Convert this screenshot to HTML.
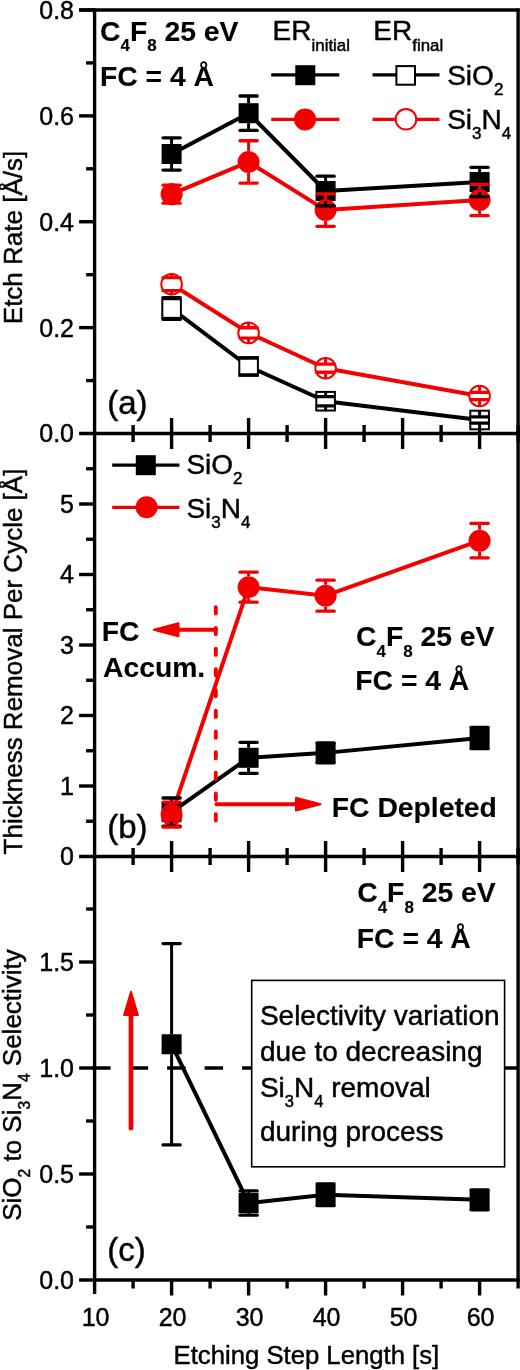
<!DOCTYPE html>
<html><head><meta charset="utf-8"><style>html,body{margin:0;padding:0;background:#fff;}svg{display:block;}text{stroke:#000;stroke-width:0.45px;}text[font-weight="bold"]{stroke-width:0.1px;}</style></head><body>
<svg width="520" height="1370" viewBox="0 0 520 1370">
<rect width="520" height="1370" fill="#fff"/>
<g font-family="'Liberation Sans', Arial, sans-serif" fill="#000">
<line x1="79.10" y1="10.00" x2="519.60" y2="10.00" stroke="#000" stroke-width="3.4" stroke-linecap="butt" />
<line x1="94.60" y1="8.50" x2="94.60" y2="1294.00" stroke="#000" stroke-width="3.4" stroke-linecap="butt" />
<line x1="518.10" y1="8.50" x2="518.10" y2="1281.50" stroke="#000" stroke-width="3.4" stroke-linecap="butt" />
<line x1="79.10" y1="433.50" x2="519.60" y2="433.50" stroke="#000" stroke-width="3.4" stroke-linecap="butt" />
<line x1="79.10" y1="856.50" x2="519.60" y2="856.50" stroke="#000" stroke-width="3.4" stroke-linecap="butt" />
<line x1="79.10" y1="1280.00" x2="519.60" y2="1280.00" stroke="#000" stroke-width="3.4" stroke-linecap="butt" />
<line x1="79.10" y1="9.98" x2="94.60" y2="9.98" stroke="#000" stroke-width="3.4" stroke-linecap="butt" />
<line x1="79.10" y1="115.86" x2="94.60" y2="115.86" stroke="#000" stroke-width="3.4" stroke-linecap="butt" />
<line x1="79.10" y1="221.74" x2="94.60" y2="221.74" stroke="#000" stroke-width="3.4" stroke-linecap="butt" />
<line x1="79.10" y1="327.62" x2="94.60" y2="327.62" stroke="#000" stroke-width="3.4" stroke-linecap="butt" />
<line x1="86.10" y1="62.92" x2="94.60" y2="62.92" stroke="#000" stroke-width="3.4" stroke-linecap="butt" />
<line x1="86.10" y1="168.80" x2="94.60" y2="168.80" stroke="#000" stroke-width="3.4" stroke-linecap="butt" />
<line x1="86.10" y1="274.68" x2="94.60" y2="274.68" stroke="#000" stroke-width="3.4" stroke-linecap="butt" />
<line x1="86.10" y1="380.56" x2="94.60" y2="380.56" stroke="#000" stroke-width="3.4" stroke-linecap="butt" />
<line x1="79.10" y1="504.00" x2="94.60" y2="504.00" stroke="#000" stroke-width="3.4" stroke-linecap="butt" />
<line x1="79.10" y1="574.50" x2="94.60" y2="574.50" stroke="#000" stroke-width="3.4" stroke-linecap="butt" />
<line x1="79.10" y1="645.00" x2="94.60" y2="645.00" stroke="#000" stroke-width="3.4" stroke-linecap="butt" />
<line x1="79.10" y1="715.50" x2="94.60" y2="715.50" stroke="#000" stroke-width="3.4" stroke-linecap="butt" />
<line x1="79.10" y1="786.00" x2="94.60" y2="786.00" stroke="#000" stroke-width="3.4" stroke-linecap="butt" />
<line x1="86.10" y1="468.75" x2="94.60" y2="468.75" stroke="#000" stroke-width="3.4" stroke-linecap="butt" />
<line x1="86.10" y1="539.25" x2="94.60" y2="539.25" stroke="#000" stroke-width="3.4" stroke-linecap="butt" />
<line x1="86.10" y1="609.75" x2="94.60" y2="609.75" stroke="#000" stroke-width="3.4" stroke-linecap="butt" />
<line x1="86.10" y1="680.25" x2="94.60" y2="680.25" stroke="#000" stroke-width="3.4" stroke-linecap="butt" />
<line x1="86.10" y1="750.75" x2="94.60" y2="750.75" stroke="#000" stroke-width="3.4" stroke-linecap="butt" />
<line x1="86.10" y1="821.25" x2="94.60" y2="821.25" stroke="#000" stroke-width="3.4" stroke-linecap="butt" />
<line x1="79.10" y1="962.00" x2="94.60" y2="962.00" stroke="#000" stroke-width="3.4" stroke-linecap="butt" />
<line x1="79.10" y1="1068.00" x2="94.60" y2="1068.00" stroke="#000" stroke-width="3.4" stroke-linecap="butt" />
<line x1="79.10" y1="1174.00" x2="94.60" y2="1174.00" stroke="#000" stroke-width="3.4" stroke-linecap="butt" />
<line x1="86.10" y1="909.00" x2="94.60" y2="909.00" stroke="#000" stroke-width="3.4" stroke-linecap="butt" />
<line x1="86.10" y1="1015.00" x2="94.60" y2="1015.00" stroke="#000" stroke-width="3.4" stroke-linecap="butt" />
<line x1="86.10" y1="1121.00" x2="94.60" y2="1121.00" stroke="#000" stroke-width="3.4" stroke-linecap="butt" />
<line x1="86.10" y1="1227.00" x2="94.60" y2="1227.00" stroke="#000" stroke-width="3.4" stroke-linecap="butt" />
<line x1="133.10" y1="425.00" x2="133.10" y2="442.00" stroke="#000" stroke-width="3.4" stroke-linecap="butt" />
<line x1="133.10" y1="848.00" x2="133.10" y2="865.00" stroke="#000" stroke-width="3.4" stroke-linecap="butt" />
<line x1="133.10" y1="1280.00" x2="133.10" y2="1288.50" stroke="#000" stroke-width="3.4" stroke-linecap="butt" />
<line x1="171.60" y1="418.00" x2="171.60" y2="449.00" stroke="#000" stroke-width="3.4" stroke-linecap="butt" />
<line x1="171.60" y1="841.00" x2="171.60" y2="872.00" stroke="#000" stroke-width="3.4" stroke-linecap="butt" />
<line x1="171.60" y1="1280.00" x2="171.60" y2="1295.50" stroke="#000" stroke-width="3.4" stroke-linecap="butt" />
<line x1="210.10" y1="425.00" x2="210.10" y2="442.00" stroke="#000" stroke-width="3.4" stroke-linecap="butt" />
<line x1="210.10" y1="848.00" x2="210.10" y2="865.00" stroke="#000" stroke-width="3.4" stroke-linecap="butt" />
<line x1="210.10" y1="1280.00" x2="210.10" y2="1288.50" stroke="#000" stroke-width="3.4" stroke-linecap="butt" />
<line x1="248.60" y1="418.00" x2="248.60" y2="449.00" stroke="#000" stroke-width="3.4" stroke-linecap="butt" />
<line x1="248.60" y1="841.00" x2="248.60" y2="872.00" stroke="#000" stroke-width="3.4" stroke-linecap="butt" />
<line x1="248.60" y1="1280.00" x2="248.60" y2="1295.50" stroke="#000" stroke-width="3.4" stroke-linecap="butt" />
<line x1="287.10" y1="425.00" x2="287.10" y2="442.00" stroke="#000" stroke-width="3.4" stroke-linecap="butt" />
<line x1="287.10" y1="848.00" x2="287.10" y2="865.00" stroke="#000" stroke-width="3.4" stroke-linecap="butt" />
<line x1="287.10" y1="1280.00" x2="287.10" y2="1288.50" stroke="#000" stroke-width="3.4" stroke-linecap="butt" />
<line x1="325.60" y1="418.00" x2="325.60" y2="449.00" stroke="#000" stroke-width="3.4" stroke-linecap="butt" />
<line x1="325.60" y1="841.00" x2="325.60" y2="872.00" stroke="#000" stroke-width="3.4" stroke-linecap="butt" />
<line x1="325.60" y1="1280.00" x2="325.60" y2="1295.50" stroke="#000" stroke-width="3.4" stroke-linecap="butt" />
<line x1="364.10" y1="425.00" x2="364.10" y2="442.00" stroke="#000" stroke-width="3.4" stroke-linecap="butt" />
<line x1="364.10" y1="848.00" x2="364.10" y2="865.00" stroke="#000" stroke-width="3.4" stroke-linecap="butt" />
<line x1="364.10" y1="1280.00" x2="364.10" y2="1288.50" stroke="#000" stroke-width="3.4" stroke-linecap="butt" />
<line x1="402.60" y1="418.00" x2="402.60" y2="449.00" stroke="#000" stroke-width="3.4" stroke-linecap="butt" />
<line x1="402.60" y1="841.00" x2="402.60" y2="872.00" stroke="#000" stroke-width="3.4" stroke-linecap="butt" />
<line x1="402.60" y1="1280.00" x2="402.60" y2="1295.50" stroke="#000" stroke-width="3.4" stroke-linecap="butt" />
<line x1="441.10" y1="425.00" x2="441.10" y2="442.00" stroke="#000" stroke-width="3.4" stroke-linecap="butt" />
<line x1="441.10" y1="848.00" x2="441.10" y2="865.00" stroke="#000" stroke-width="3.4" stroke-linecap="butt" />
<line x1="441.10" y1="1280.00" x2="441.10" y2="1288.50" stroke="#000" stroke-width="3.4" stroke-linecap="butt" />
<line x1="479.60" y1="418.00" x2="479.60" y2="449.00" stroke="#000" stroke-width="3.4" stroke-linecap="butt" />
<line x1="479.60" y1="841.00" x2="479.60" y2="872.00" stroke="#000" stroke-width="3.4" stroke-linecap="butt" />
<line x1="479.60" y1="1280.00" x2="479.60" y2="1295.50" stroke="#000" stroke-width="3.4" stroke-linecap="butt" />
<line x1="518.10" y1="425.00" x2="518.10" y2="442.00" stroke="#000" stroke-width="3.4" stroke-linecap="butt" />
<line x1="518.10" y1="848.00" x2="518.10" y2="865.00" stroke="#000" stroke-width="3.4" stroke-linecap="butt" />
<line x1="518.10" y1="1280.00" x2="518.10" y2="1288.50" stroke="#000" stroke-width="3.4" stroke-linecap="butt" />
<polyline points="171.60,153.98 248.60,113.21 325.60,191.03 479.60,182.04" fill="none" stroke="#000" stroke-width="4.0" stroke-linejoin="round"/>
<polyline points="171.60,194.21 248.60,161.92 325.60,210.09 479.60,200.03" fill="none" stroke="#f50000" stroke-width="4.0" stroke-linejoin="round"/>
<polyline points="171.60,308.56 248.60,366.48 325.60,401.21 479.60,420.00" fill="none" stroke="#000" stroke-width="4.0" stroke-linejoin="round"/>
<polyline points="171.60,284.21 248.60,332.91 325.60,368.22 479.60,396.02" fill="none" stroke="#f50000" stroke-width="4.0" stroke-linejoin="round"/>
<rect x="161.60" y="143.98" width="20.0" height="20.0" fill="#000"/>
<rect x="238.60" y="103.21" width="20.0" height="20.0" fill="#000"/>
<rect x="315.60" y="181.03" width="20.0" height="20.0" fill="#000"/>
<rect x="469.60" y="172.04" width="20.0" height="20.0" fill="#000"/>
<circle cx="171.60" cy="194.21" r="11.0" fill="#f50000"/>
<circle cx="248.60" cy="161.92" r="11.0" fill="#f50000"/>
<circle cx="325.60" cy="210.09" r="11.0" fill="#f50000"/>
<circle cx="479.60" cy="200.03" r="11.0" fill="#f50000"/>
<rect x="162.30" y="299.26" width="18.6" height="18.6" fill="#fff" stroke="#000" stroke-width="2.0"/>
<rect x="239.30" y="357.18" width="18.6" height="18.6" fill="#fff" stroke="#000" stroke-width="2.0"/>
<rect x="316.30" y="391.91" width="18.6" height="18.6" fill="#fff" stroke="#000" stroke-width="2.0"/>
<rect x="470.30" y="410.70" width="18.6" height="18.6" fill="#fff" stroke="#000" stroke-width="2.0"/>
<circle cx="171.60" cy="284.21" r="10.3" fill="#fff" stroke="#f50000" stroke-width="2.0"/>
<circle cx="248.60" cy="332.91" r="10.3" fill="#fff" stroke="#f50000" stroke-width="2.0"/>
<circle cx="325.60" cy="368.22" r="10.3" fill="#fff" stroke="#f50000" stroke-width="2.0"/>
<circle cx="479.60" cy="396.02" r="10.3" fill="#fff" stroke="#f50000" stroke-width="2.0"/>
<line x1="171.60" y1="143.98" x2="171.60" y2="137.83" stroke="#000" stroke-width="3.0" stroke-linecap="butt" />
<line x1="163.00" y1="137.83" x2="180.20" y2="137.83" stroke="#000" stroke-width="3.3" stroke-linecap="round" />
<line x1="171.60" y1="163.98" x2="171.60" y2="170.12" stroke="#000" stroke-width="3.0" stroke-linecap="butt" />
<line x1="163.00" y1="170.12" x2="180.20" y2="170.12" stroke="#000" stroke-width="3.3" stroke-linecap="round" />
<line x1="248.60" y1="103.21" x2="248.60" y2="96.01" stroke="#000" stroke-width="3.0" stroke-linecap="butt" />
<line x1="240.00" y1="96.01" x2="257.20" y2="96.01" stroke="#000" stroke-width="3.3" stroke-linecap="round" />
<line x1="248.60" y1="123.21" x2="248.60" y2="130.42" stroke="#000" stroke-width="3.0" stroke-linecap="butt" />
<line x1="240.00" y1="130.42" x2="257.20" y2="130.42" stroke="#000" stroke-width="3.3" stroke-linecap="round" />
<line x1="325.60" y1="181.03" x2="325.60" y2="176.21" stroke="#000" stroke-width="3.0" stroke-linecap="butt" />
<line x1="317.00" y1="176.21" x2="334.20" y2="176.21" stroke="#000" stroke-width="3.3" stroke-linecap="round" />
<line x1="325.60" y1="201.03" x2="325.60" y2="205.86" stroke="#000" stroke-width="3.0" stroke-linecap="butt" />
<line x1="317.00" y1="205.86" x2="334.20" y2="205.86" stroke="#000" stroke-width="3.3" stroke-linecap="round" />
<line x1="479.60" y1="172.04" x2="479.60" y2="167.37" stroke="#000" stroke-width="3.0" stroke-linecap="butt" />
<line x1="471.00" y1="167.37" x2="488.20" y2="167.37" stroke="#000" stroke-width="3.3" stroke-linecap="round" />
<line x1="479.60" y1="192.04" x2="479.60" y2="196.70" stroke="#000" stroke-width="3.0" stroke-linecap="butt" />
<line x1="471.00" y1="196.70" x2="488.20" y2="196.70" stroke="#000" stroke-width="3.3" stroke-linecap="round" />
<line x1="171.60" y1="183.21" x2="171.60" y2="185.21" stroke="#f50000" stroke-width="3.0" stroke-linecap="butt" />
<line x1="163.00" y1="185.21" x2="180.20" y2="185.21" stroke="#f50000" stroke-width="3.3" stroke-linecap="round" />
<line x1="171.60" y1="205.21" x2="171.60" y2="203.21" stroke="#f50000" stroke-width="3.0" stroke-linecap="butt" />
<line x1="163.00" y1="203.21" x2="180.20" y2="203.21" stroke="#f50000" stroke-width="3.3" stroke-linecap="round" />
<line x1="248.60" y1="150.92" x2="248.60" y2="140.74" stroke="#f50000" stroke-width="3.0" stroke-linecap="butt" />
<line x1="240.00" y1="140.74" x2="257.20" y2="140.74" stroke="#f50000" stroke-width="3.3" stroke-linecap="round" />
<line x1="248.60" y1="172.92" x2="248.60" y2="183.09" stroke="#f50000" stroke-width="3.0" stroke-linecap="butt" />
<line x1="240.00" y1="183.09" x2="257.20" y2="183.09" stroke="#f50000" stroke-width="3.3" stroke-linecap="round" />
<line x1="325.60" y1="199.09" x2="325.60" y2="193.84" stroke="#f50000" stroke-width="3.0" stroke-linecap="butt" />
<line x1="317.00" y1="193.84" x2="334.20" y2="193.84" stroke="#f50000" stroke-width="3.3" stroke-linecap="round" />
<line x1="325.60" y1="221.09" x2="325.60" y2="226.35" stroke="#f50000" stroke-width="3.0" stroke-linecap="butt" />
<line x1="317.00" y1="226.35" x2="334.20" y2="226.35" stroke="#f50000" stroke-width="3.3" stroke-linecap="round" />
<line x1="479.60" y1="189.03" x2="479.60" y2="184.42" stroke="#f50000" stroke-width="3.0" stroke-linecap="butt" />
<line x1="471.00" y1="184.42" x2="488.20" y2="184.42" stroke="#f50000" stroke-width="3.3" stroke-linecap="round" />
<line x1="479.60" y1="211.03" x2="479.60" y2="215.65" stroke="#f50000" stroke-width="3.0" stroke-linecap="butt" />
<line x1="471.00" y1="215.65" x2="488.20" y2="215.65" stroke="#f50000" stroke-width="3.3" stroke-linecap="round" />
<line x1="171.60" y1="298.56" x2="171.60" y2="297.71" stroke="#000" stroke-width="3.0" stroke-linecap="butt" />
<line x1="163.00" y1="297.71" x2="180.20" y2="297.71" stroke="#000" stroke-width="3.3" stroke-linecap="round" />
<line x1="171.60" y1="318.56" x2="171.60" y2="319.41" stroke="#000" stroke-width="3.0" stroke-linecap="butt" />
<line x1="163.00" y1="319.41" x2="180.20" y2="319.41" stroke="#000" stroke-width="3.3" stroke-linecap="round" />
<line x1="248.60" y1="356.48" x2="248.60" y2="358.01" stroke="#000" stroke-width="3.0" stroke-linecap="butt" />
<line x1="240.00" y1="358.01" x2="257.20" y2="358.01" stroke="#000" stroke-width="3.3" stroke-linecap="round" />
<line x1="248.60" y1="376.48" x2="248.60" y2="374.95" stroke="#000" stroke-width="3.0" stroke-linecap="butt" />
<line x1="240.00" y1="374.95" x2="257.20" y2="374.95" stroke="#000" stroke-width="3.3" stroke-linecap="round" />
<line x1="325.60" y1="391.21" x2="325.60" y2="396.60" stroke="#000" stroke-width="3.0" stroke-linecap="butt" />
<line x1="317.00" y1="396.60" x2="334.20" y2="396.60" stroke="#000" stroke-width="3.3" stroke-linecap="round" />
<line x1="325.60" y1="411.21" x2="325.60" y2="405.81" stroke="#000" stroke-width="3.0" stroke-linecap="butt" />
<line x1="317.00" y1="405.81" x2="334.20" y2="405.81" stroke="#000" stroke-width="3.3" stroke-linecap="round" />
<line x1="479.60" y1="410.00" x2="479.60" y2="416.82" stroke="#000" stroke-width="3.0" stroke-linecap="butt" />
<line x1="471.00" y1="416.82" x2="488.20" y2="416.82" stroke="#000" stroke-width="3.3" stroke-linecap="round" />
<line x1="479.60" y1="430.00" x2="479.60" y2="423.18" stroke="#000" stroke-width="3.0" stroke-linecap="butt" />
<line x1="471.00" y1="423.18" x2="488.20" y2="423.18" stroke="#000" stroke-width="3.3" stroke-linecap="round" />
<line x1="171.60" y1="273.21" x2="171.60" y2="277.70" stroke="#f50000" stroke-width="3.0" stroke-linecap="butt" />
<line x1="163.00" y1="277.70" x2="180.20" y2="277.70" stroke="#f50000" stroke-width="3.3" stroke-linecap="round" />
<line x1="171.60" y1="295.21" x2="171.60" y2="290.72" stroke="#f50000" stroke-width="3.0" stroke-linecap="butt" />
<line x1="163.00" y1="290.72" x2="180.20" y2="290.72" stroke="#f50000" stroke-width="3.3" stroke-linecap="round" />
<line x1="248.60" y1="321.91" x2="248.60" y2="327.73" stroke="#f50000" stroke-width="3.0" stroke-linecap="butt" />
<line x1="240.00" y1="327.73" x2="257.20" y2="327.73" stroke="#f50000" stroke-width="3.3" stroke-linecap="round" />
<line x1="248.60" y1="343.91" x2="248.60" y2="338.10" stroke="#f50000" stroke-width="3.0" stroke-linecap="butt" />
<line x1="240.00" y1="338.10" x2="257.20" y2="338.10" stroke="#f50000" stroke-width="3.3" stroke-linecap="round" />
<line x1="325.60" y1="357.22" x2="325.60" y2="364.20" stroke="#f50000" stroke-width="3.0" stroke-linecap="butt" />
<line x1="317.00" y1="364.20" x2="334.20" y2="364.20" stroke="#f50000" stroke-width="3.3" stroke-linecap="round" />
<line x1="325.60" y1="379.22" x2="325.60" y2="372.25" stroke="#f50000" stroke-width="3.0" stroke-linecap="butt" />
<line x1="317.00" y1="372.25" x2="334.20" y2="372.25" stroke="#f50000" stroke-width="3.3" stroke-linecap="round" />
<line x1="479.60" y1="385.02" x2="479.60" y2="392.31" stroke="#f50000" stroke-width="3.0" stroke-linecap="butt" />
<line x1="471.00" y1="392.31" x2="488.20" y2="392.31" stroke="#f50000" stroke-width="3.3" stroke-linecap="round" />
<line x1="479.60" y1="407.02" x2="479.60" y2="399.72" stroke="#f50000" stroke-width="3.0" stroke-linecap="butt" />
<line x1="471.00" y1="399.72" x2="488.20" y2="399.72" stroke="#f50000" stroke-width="3.3" stroke-linecap="round" />
<polyline points="171.60,812.09 248.60,757.80 325.60,752.87 479.60,738.06" fill="none" stroke="#000" stroke-width="4.0" stroke-linejoin="round"/>
<polyline points="171.60,814.62 248.60,587.19 325.60,595.65 479.60,540.66" fill="none" stroke="#f50000" stroke-width="4.0" stroke-linejoin="round"/>
<rect x="161.60" y="802.09" width="20.0" height="20.0" fill="#000"/>
<rect x="238.60" y="747.80" width="20.0" height="20.0" fill="#000"/>
<rect x="315.60" y="742.87" width="20.0" height="20.0" fill="#000"/>
<rect x="469.60" y="728.06" width="20.0" height="20.0" fill="#000"/>
<circle cx="171.60" cy="814.62" r="11.0" fill="#f50000"/>
<circle cx="248.60" cy="587.19" r="11.0" fill="#f50000"/>
<circle cx="325.60" cy="595.65" r="11.0" fill="#f50000"/>
<circle cx="479.60" cy="540.66" r="11.0" fill="#f50000"/>
<line x1="171.60" y1="802.09" x2="171.60" y2="797.99" stroke="#000" stroke-width="3.0" stroke-linecap="butt" />
<line x1="163.00" y1="797.99" x2="180.20" y2="797.99" stroke="#000" stroke-width="3.3" stroke-linecap="round" />
<line x1="171.60" y1="822.09" x2="171.60" y2="826.19" stroke="#000" stroke-width="3.0" stroke-linecap="butt" />
<line x1="163.00" y1="826.19" x2="180.20" y2="826.19" stroke="#000" stroke-width="3.3" stroke-linecap="round" />
<line x1="248.60" y1="747.80" x2="248.60" y2="742.29" stroke="#000" stroke-width="3.0" stroke-linecap="butt" />
<line x1="240.00" y1="742.29" x2="257.20" y2="742.29" stroke="#000" stroke-width="3.3" stroke-linecap="round" />
<line x1="248.60" y1="767.80" x2="248.60" y2="773.31" stroke="#000" stroke-width="3.0" stroke-linecap="butt" />
<line x1="240.00" y1="773.31" x2="257.20" y2="773.31" stroke="#000" stroke-width="3.3" stroke-linecap="round" />
<line x1="325.60" y1="742.87" x2="325.60" y2="743.00" stroke="#000" stroke-width="3.0" stroke-linecap="butt" />
<line x1="317.00" y1="743.00" x2="334.20" y2="743.00" stroke="#000" stroke-width="3.3" stroke-linecap="round" />
<line x1="325.60" y1="762.87" x2="325.60" y2="762.74" stroke="#000" stroke-width="3.0" stroke-linecap="butt" />
<line x1="317.00" y1="762.74" x2="334.20" y2="762.74" stroke="#000" stroke-width="3.3" stroke-linecap="round" />
<line x1="479.60" y1="728.06" x2="479.60" y2="727.48" stroke="#000" stroke-width="3.0" stroke-linecap="butt" />
<line x1="471.00" y1="727.48" x2="488.20" y2="727.48" stroke="#000" stroke-width="3.3" stroke-linecap="round" />
<line x1="479.60" y1="748.06" x2="479.60" y2="748.63" stroke="#000" stroke-width="3.0" stroke-linecap="butt" />
<line x1="471.00" y1="748.63" x2="488.20" y2="748.63" stroke="#000" stroke-width="3.3" stroke-linecap="round" />
<line x1="171.60" y1="803.62" x2="171.60" y2="802.14" stroke="#f50000" stroke-width="3.0" stroke-linecap="butt" />
<line x1="163.00" y1="802.14" x2="180.20" y2="802.14" stroke="#f50000" stroke-width="3.3" stroke-linecap="round" />
<line x1="171.60" y1="825.62" x2="171.60" y2="827.10" stroke="#f50000" stroke-width="3.0" stroke-linecap="butt" />
<line x1="163.00" y1="827.10" x2="180.20" y2="827.10" stroke="#f50000" stroke-width="3.3" stroke-linecap="round" />
<line x1="248.60" y1="576.19" x2="248.60" y2="572.17" stroke="#f50000" stroke-width="3.0" stroke-linecap="butt" />
<line x1="240.00" y1="572.17" x2="257.20" y2="572.17" stroke="#f50000" stroke-width="3.3" stroke-linecap="round" />
<line x1="248.60" y1="598.19" x2="248.60" y2="602.21" stroke="#f50000" stroke-width="3.0" stroke-linecap="butt" />
<line x1="240.00" y1="602.21" x2="257.20" y2="602.21" stroke="#f50000" stroke-width="3.3" stroke-linecap="round" />
<line x1="325.60" y1="584.65" x2="325.60" y2="580.14" stroke="#f50000" stroke-width="3.0" stroke-linecap="butt" />
<line x1="317.00" y1="580.14" x2="334.20" y2="580.14" stroke="#f50000" stroke-width="3.3" stroke-linecap="round" />
<line x1="325.60" y1="606.65" x2="325.60" y2="611.16" stroke="#f50000" stroke-width="3.0" stroke-linecap="butt" />
<line x1="317.00" y1="611.16" x2="334.20" y2="611.16" stroke="#f50000" stroke-width="3.3" stroke-linecap="round" />
<line x1="479.60" y1="529.66" x2="479.60" y2="523.39" stroke="#f50000" stroke-width="3.0" stroke-linecap="butt" />
<line x1="471.00" y1="523.39" x2="488.20" y2="523.39" stroke="#f50000" stroke-width="3.3" stroke-linecap="round" />
<line x1="479.60" y1="551.66" x2="479.60" y2="557.93" stroke="#f50000" stroke-width="3.0" stroke-linecap="butt" />
<line x1="471.00" y1="557.93" x2="488.20" y2="557.93" stroke="#f50000" stroke-width="3.3" stroke-linecap="round" />
<line x1="92.1" y1="1068.00" x2="518.10" y2="1068.00" stroke="#000" stroke-width="3.5" stroke-dasharray="18.5 19"/>
<polyline points="171.60,1044.26 248.60,1203.04 325.60,1194.78 479.60,1199.86" fill="none" stroke="#000" stroke-width="4.0" stroke-linejoin="round"/>
<rect x="161.60" y="1034.26" width="20.0" height="20.0" fill="#000"/>
<rect x="238.60" y="1193.04" width="20.0" height="20.0" fill="#000"/>
<rect x="315.60" y="1184.78" width="20.0" height="20.0" fill="#000"/>
<rect x="469.60" y="1189.86" width="20.0" height="20.0" fill="#000"/>
<line x1="171.60" y1="1034.26" x2="171.60" y2="943.56" stroke="#000" stroke-width="3.0" stroke-linecap="butt" />
<line x1="163.00" y1="943.56" x2="180.20" y2="943.56" stroke="#000" stroke-width="3.3" stroke-linecap="round" />
<line x1="171.60" y1="1054.26" x2="171.60" y2="1144.96" stroke="#000" stroke-width="3.0" stroke-linecap="butt" />
<line x1="163.00" y1="1144.96" x2="180.20" y2="1144.96" stroke="#000" stroke-width="3.3" stroke-linecap="round" />
<line x1="248.60" y1="1193.04" x2="248.60" y2="1190.96" stroke="#000" stroke-width="3.0" stroke-linecap="butt" />
<line x1="240.00" y1="1190.96" x2="257.20" y2="1190.96" stroke="#000" stroke-width="3.3" stroke-linecap="round" />
<line x1="248.60" y1="1213.04" x2="248.60" y2="1215.13" stroke="#000" stroke-width="3.0" stroke-linecap="butt" />
<line x1="240.00" y1="1215.13" x2="257.20" y2="1215.13" stroke="#000" stroke-width="3.3" stroke-linecap="round" />
<line x1="325.60" y1="1184.78" x2="325.60" y2="1183.96" stroke="#000" stroke-width="3.0" stroke-linecap="butt" />
<line x1="317.00" y1="1183.96" x2="334.20" y2="1183.96" stroke="#000" stroke-width="3.3" stroke-linecap="round" />
<line x1="325.60" y1="1204.78" x2="325.60" y2="1205.59" stroke="#000" stroke-width="3.0" stroke-linecap="butt" />
<line x1="317.00" y1="1205.59" x2="334.20" y2="1205.59" stroke="#000" stroke-width="3.3" stroke-linecap="round" />
<line x1="479.60" y1="1189.86" x2="479.60" y2="1189.90" stroke="#000" stroke-width="3.0" stroke-linecap="butt" />
<line x1="471.00" y1="1189.90" x2="488.20" y2="1189.90" stroke="#000" stroke-width="3.3" stroke-linecap="round" />
<line x1="479.60" y1="1209.86" x2="479.60" y2="1209.83" stroke="#000" stroke-width="3.0" stroke-linecap="butt" />
<line x1="471.00" y1="1209.83" x2="488.20" y2="1209.83" stroke="#000" stroke-width="3.3" stroke-linecap="round" />
<line x1="215.8" y1="607.2" x2="215.8" y2="821" stroke="#f50000" stroke-width="3.9" stroke-linecap="round" stroke-dasharray="6.3 14.4"/>
<line x1="215.80" y1="629.80" x2="174.00" y2="629.80" stroke="#f50000" stroke-width="4.1" stroke-linecap="round" />
<path d="M153.80,629.80 L178.50,623.30 L178.50,636.30 Z" fill="#f50000" stroke="#f50000" stroke-width="2.0" stroke-linejoin="round"/>
<line x1="216.50" y1="804.20" x2="300.48" y2="804.20" stroke="#f50000" stroke-width="3.9" stroke-linecap="round" />
<path d="M320.60,804.20 L296.00,810.60 L296.00,797.80 Z" fill="#f50000" stroke="#f50000" stroke-width="2.0" stroke-linejoin="round"/>
<line x1="131.00" y1="1128.20" x2="131.00" y2="1010.80" stroke="#f50000" stroke-width="4.7" stroke-linecap="round" />
<path d="M131.00,991.80 L137.90,1015.00 L124.10,1015.00 Z" fill="#f50000" stroke="#f50000" stroke-width="2.0" stroke-linejoin="round"/>
<rect x="251.7" y="980.4" width="252.9" height="186.4" fill="#fff" stroke="#000" stroke-width="1.6"/>
<text x="74.00" y="18.93" font-size="25" text-anchor="end" font-weight="normal" >0.8</text>
<text x="74.00" y="124.81" font-size="25" text-anchor="end" font-weight="normal" >0.6</text>
<text x="74.00" y="230.69" font-size="25" text-anchor="end" font-weight="normal" >0.4</text>
<text x="74.00" y="336.57" font-size="25" text-anchor="end" font-weight="normal" >0.2</text>
<text x="74.00" y="442.45" font-size="25" text-anchor="end" font-weight="normal" >0.0</text>
<text x="74.00" y="512.95" font-size="25" text-anchor="end" font-weight="normal" >5</text>
<text x="74.00" y="583.45" font-size="25" text-anchor="end" font-weight="normal" >4</text>
<text x="74.00" y="653.95" font-size="25" text-anchor="end" font-weight="normal" >3</text>
<text x="74.00" y="724.45" font-size="25" text-anchor="end" font-weight="normal" >2</text>
<text x="74.00" y="794.95" font-size="25" text-anchor="end" font-weight="normal" >1</text>
<text x="74.00" y="865.45" font-size="25" text-anchor="end" font-weight="normal" >0</text>
<text x="74.00" y="970.95" font-size="25" text-anchor="end" font-weight="normal" >1.5</text>
<text x="74.00" y="1076.95" font-size="25" text-anchor="end" font-weight="normal" >1.0</text>
<text x="74.00" y="1182.95" font-size="25" text-anchor="end" font-weight="normal" >0.5</text>
<text x="74.00" y="1288.95" font-size="25" text-anchor="end" font-weight="normal" >0.0</text>
<text x="95.60" y="1326.00" font-size="25" text-anchor="middle" font-weight="normal" >10</text>
<text x="172.60" y="1326.00" font-size="25" text-anchor="middle" font-weight="normal" >20</text>
<text x="249.60" y="1326.00" font-size="25" text-anchor="middle" font-weight="normal" >30</text>
<text x="326.60" y="1326.00" font-size="25" text-anchor="middle" font-weight="normal" >40</text>
<text x="403.60" y="1326.00" font-size="25" text-anchor="middle" font-weight="normal" >50</text>
<text x="480.60" y="1326.00" font-size="25" text-anchor="middle" font-weight="normal" >60</text>
<text x="306.40" y="1364.20" font-size="25.7" text-anchor="middle" font-weight="normal" >Etching Step Length [s]</text>
<text transform="translate(21.8 237.50) rotate(-90)" x="0" y="0" font-size="26" text-anchor="middle">Etch Rate [Å/s]</text>
<text transform="translate(21.8 661.50) rotate(-90)" x="0" y="0" font-size="26" text-anchor="middle">Thickness Removal Per Cycle [Å]</text>
<text transform="translate(21.2 1085.00) rotate(-90)" x="0" y="0" font-size="26" text-anchor="middle">SiO<tspan font-size="15.6" dy="9">2</tspan><tspan dy="-9"> to Si</tspan><tspan font-size="15.6" dy="9">3</tspan><tspan dy="-9">N</tspan><tspan font-size="15.6" dy="9">4</tspan><tspan dy="-9"> Selectivity</tspan></text>
<text x="107.20" y="414.40" font-size="33" text-anchor="start" font-weight="normal" >(a)</text>
<text x="107.20" y="837.80" font-size="33" text-anchor="start" font-weight="normal" >(b)</text>
<text x="107.20" y="1261.20" font-size="33" text-anchor="start" font-weight="normal" >(c)</text>
<text x="100.00" y="40.60" font-size="28.3" font-weight="bold">C<tspan font-size="17" dy="10.7">4</tspan><tspan dy="-10.7">F</tspan><tspan font-size="17" dy="10.7">8</tspan><tspan dy="-10.7"> 25 eV</tspan></text>
<text x="100.00" y="86.10" font-size="28.3" text-anchor="start" font-weight="bold" >FC = 4 Å</text>
<text x="356.00" y="646.20" font-size="28.3" font-weight="bold">C<tspan font-size="17" dy="10.7">4</tspan><tspan dy="-10.7">F</tspan><tspan font-size="17" dy="10.7">8</tspan><tspan dy="-10.7"> 25 eV</tspan></text>
<text x="355.30" y="690.30" font-size="28.3" text-anchor="start" font-weight="bold" >FC = 4 Å</text>
<text x="357.20" y="902.30" font-size="28.3" font-weight="bold">C<tspan font-size="17" dy="10.7">4</tspan><tspan dy="-10.7">F</tspan><tspan font-size="17" dy="10.7">8</tspan><tspan dy="-10.7"> 25 eV</tspan></text>
<text x="356.80" y="947.70" font-size="28.3" text-anchor="start" font-weight="bold" >FC = 4 Å</text>
<text x="101.80" y="641.00" font-size="28.3" text-anchor="start" font-weight="bold" >FC</text>
<text x="103.00" y="677.00" font-size="28.3" text-anchor="start" font-weight="bold" >Accum.</text>
<text x="331.80" y="816.50" font-size="28.3" text-anchor="start" font-weight="bold" >FC Depleted</text>
<text x="272.6" y="40.1" font-size="28">ER<tspan font-size="16.9" dy="10.4">initial</tspan></text>
<text x="373.3" y="40.1" font-size="28">ER<tspan font-size="16.9" dy="10.4">final</tspan></text>
<line x1="271.20" y1="74.90" x2="339.30" y2="74.90" stroke="#000" stroke-width="3.2" stroke-linecap="butt" />
<rect x="295.30" y="65.20" width="20.0" height="20.0" fill="#000"/>
<line x1="372.50" y1="74.90" x2="439.50" y2="74.90" stroke="#000" stroke-width="3.2" stroke-linecap="butt" />
<rect x="396.40" y="66.10" width="18.6" height="18.6" fill="#fff" stroke="#000" stroke-width="2.0"/>
<line x1="271.20" y1="119.30" x2="339.30" y2="119.30" stroke="#f50000" stroke-width="3.2" stroke-linecap="butt" />
<circle cx="305.10" cy="119.40" r="11.0" fill="#f50000"/>
<line x1="372.50" y1="119.30" x2="439.50" y2="119.30" stroke="#f50000" stroke-width="3.2" stroke-linecap="butt" />
<circle cx="406.00" cy="119.30" r="10.3" fill="#fff" stroke="#f50000" stroke-width="2.0"/>
<text x="447.20" y="84.60" font-size="28">SiO<tspan font-size="17" dy="10">2</tspan></text>
<text x="447.20" y="129.20" font-size="28">Si<tspan font-size="17" dy="10">3</tspan><tspan dy="-10">N</tspan><tspan font-size="17" dy="10">4</tspan></text>
<line x1="112.20" y1="465.20" x2="179.40" y2="465.20" stroke="#000" stroke-width="3.2" stroke-linecap="butt" />
<rect x="135.80" y="455.20" width="20.0" height="20.0" fill="#000"/>
<line x1="112.20" y1="507.30" x2="179.40" y2="507.30" stroke="#f50000" stroke-width="3.2" stroke-linecap="butt" />
<circle cx="146.60" cy="507.30" r="11.0" fill="#f50000"/>
<text x="186.40" y="474.20" font-size="28">SiO<tspan font-size="17" dy="10">2</tspan></text>
<text x="186.40" y="518.10" font-size="28">Si<tspan font-size="17" dy="10">3</tspan><tspan dy="-10">N</tspan><tspan font-size="17" dy="10">4</tspan></text>
<text x="259.90" y="1025.40" font-size="28" text-anchor="start" font-weight="normal" >Selectivity variation</text>
<text x="259.90" y="1060.80" font-size="28" text-anchor="start" font-weight="normal" >due to decreasing</text>
<text x="259.9" y="1096.9" font-size="28">Si<tspan font-size="16.5" dy="9.7">3</tspan><tspan dy="-9.7">N</tspan><tspan font-size="16.5" dy="9.7">4</tspan><tspan dy="-9.7"> removal</tspan></text>
<text x="259.90" y="1141.30" font-size="28" text-anchor="start" font-weight="normal" >during process</text>
</g></svg>
</body></html>
